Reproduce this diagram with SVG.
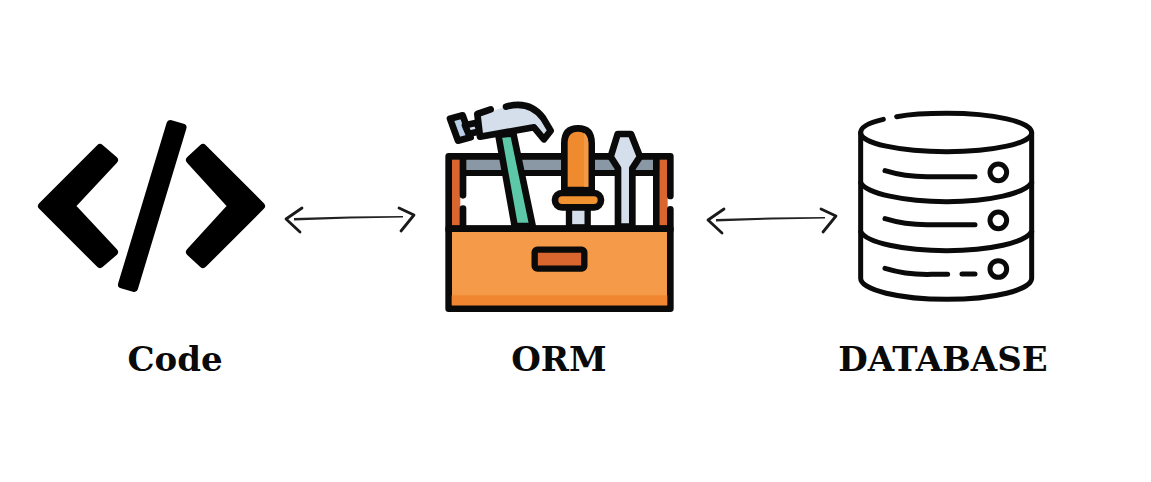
<svg xmlns="http://www.w3.org/2000/svg" width="1151" height="482" viewBox="0 0 1151 482">
<style>
.lbl{font-family:"DejaVu Serif","Liberation Serif",serif;font-weight:700;font-size:34px;fill:#0a0a0a;text-anchor:middle}
.k{fill:#000;stroke:#000;stroke-width:8;stroke-linejoin:round}
.ol{stroke:#0a0a0a;stroke-width:20;stroke-linejoin:round;stroke-linecap:round}
.none{fill:none}
.db{fill:none;stroke:#0a0a0a;stroke-width:15;stroke-linecap:round;stroke-linejoin:round}
.arr{fill:none;stroke:#1a1a1a;stroke-width:2.800;stroke-linecap:round;stroke-linejoin:round}
.shaft{fill:#222}
</style>
<defs>
<g id="arrow">
<path class="arr" d="M302 208L286 219L300 232"/>
<path class="arr" d="M399 208L414 215L401 231"/>
<path class="shaft" d="M294 218L350 216.500L403 216L403 217.500L350 218.500L294 220.500Z"/>
</g>
</defs>
<rect width="1151" height="482" fill="#fff"/>
<g id="code">
<path class="k" d="M42 206L100 148L114 160L71 206L114 252L100 264Z"/>
<path class="k" d="M261 206L203 148L190 160L232 206L190 252L203 264Z"/>
<path class="k" d="M170.500 124L182.500 127.500L134 288L122 284.500Z"/>
<text class="lbl" x="175" y="371">Code</text>
</g>
<g id="orm">
<g transform="translate(430 90) scale(.33333)">
<rect x="100" y="208" width="590" height="32" fill="#8a97a5"/>
<rect x="108" y="258" width="562" height="155" fill="#fff"/>
<path class="none" stroke="#0a0a0a" stroke-width="18" d="M100 199H690M100 249H680"/>
<rect x="65" y="208" width="26" height="205" fill="#d9652f"/>
<rect x="688" y="208" width="25" height="205" fill="#d9652f"/>
<path class="none ol" d="M56 199V420M99 199V316M99 356V412M679 199V412M721 199V318M721 358V420M56 199H721"/>
<path class="ol" fill="#f49a48" d="M56 416H721V656H56Z"/>
<rect x="65" y="616" width="647" height="30" fill="#f0862f"/>
<rect x="314" y="479" width="149" height="57" rx="8" fill="#d9652f" stroke="#0a0a0a" stroke-width="19"/>
<path class="ol" fill="#5cc8a8" d="M205 135L250 130L308 408H254Z"/>
<path class="ol" fill="#b9cfe8" d="M60 86L98 76L122 142L84 152Z"/>
<path class="ol" fill="#d5deeb" d="M105 106L140 98L150 124L116 132Z"/>
<path fill="#d5deeb" d="M142 78L225 50Q300 35 340 85L362 122L342 148L312 112L150 140Z"/>
<path class="none ol" d="M182 58L142 72L150 140L312 112L342 148L362 122L340 85Q300 30 228 50"/>
<path fill="#f08a2e" stroke="#0a0a0a" stroke-width="20" d="M403 300V160Q403 115 444 115Q485 115 485 160V300Z"/>
<path fill="#f29a45" d="M462 128Q475 140 475 160V290H462Z"/>
<rect x="417" y="350" width="56" height="62" fill="#d5deeb" stroke="#0a0a0a" stroke-width="19"/>
<rect x="375" y="309" width="138" height="43" rx="21" fill="#f0922f" stroke="#0a0a0a" stroke-width="20"/>
<path class="ol" fill="#d5deeb" d="M563 132H603L630 200L607 235V410H564V235L542 200Z"/>
<path class="none" stroke="#0a0a0a" stroke-width="19" d="M50 416H728"/>
</g>
<text class="lbl" x="559" y="371">ORM</text>
</g>
<g id="database">
<g transform="translate(840 100) scale(.33333)">
<path class="db" d="M130 58C85 68 62 82 62 98C62 130 180 155 320 155C460 155 575 130 575 98C575 65 460 40 320 40C275 40 215 42 170 50"/>
<path class="db" d="M62 98V535C62 570 180 598 320 598C460 598 575 570 575 535V98"/>
<path class="db" d="M62 248C80 280 190 305 320 305C450 305 555 280 575 248"/>
<path class="db" d="M62 395C80 428 190 452 320 452C450 452 555 428 575 395"/>
<path class="db" d="M135 212Q200 232 275 230H405"/>
<path class="db" d="M135 356Q200 376 275 374H405"/>
<path class="db" d="M135 505Q200 525 275 523H323M366 522H405"/>
<circle class="db" cx="475" cy="217" r="25"/>
<circle class="db" cx="475" cy="361" r="25"/>
<circle class="db" cx="475" cy="507" r="25"/>
</g>
<text class="lbl" x="943" y="371">DATABASE</text>
</g>
<g id="connectors">
<use href="#arrow"/>
<use href="#arrow" x="422" y="1"/>
</g>
</svg>
